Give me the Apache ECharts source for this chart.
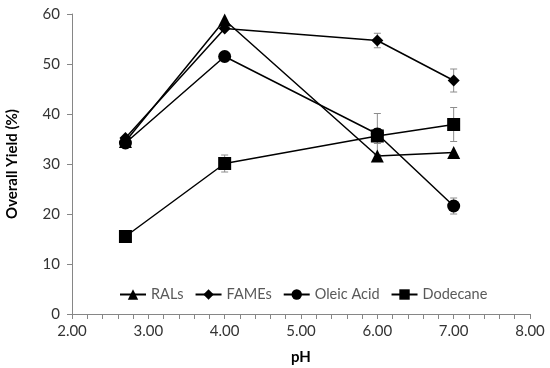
<!DOCTYPE html>
<html>
<head>
<meta charset="utf-8">
<script src="https://cdn.jsdelivr.net/npm/echarts@6/dist/echarts.min.js"></script>
<style>html,body{margin:0;padding:0;background:#fff;}#c{width:550px;height:368px;}</style>
</head>
<body>
<div id="c"></div>
<script>
var phValues = [2.7, 4.0, 6.0, 7.0];
var seriesNames = ['RALs', 'FAMEs', 'Oleic Acid', 'Dodecane'];
var ralsYield = [34.5, 58.8, 31.6, 32.3];
var famesYield = [35.2, 57.1, 54.7, 46.7];
var oleicYield = [34.2, 51.5, 36.0, 21.6];
var dodecaneYield = [15.5, 30.1, 35.6, 37.9];
var ralsErr = [0, 0, 0, 0];
var famesErr = [0, 0, 1.45, 2.3];
var oleicErr = [0, 0, 4.1, 1.6];
var dodecaneErr = [0, 1.7, 1.5, 3.4];
var xTicks = [2, 3, 4, 5, 6, 7, 8];
var yTicks = [0, 10, 20, 30, 40, 50, 60];

var values = [ralsYield, famesYield, oleicYield, dodecaneYield];
var errs = [ralsErr, famesErr, oleicErr, dodecaneErr];
var symbols = ['triangle', 'diamond', 'circle', 'rect'];
var sizes = [13, 12, 13, 13];
var FONT = 'Lato';
var chart = echarts.init(document.getElementById('c'));

function pairs(ys) { return phValues.map(function (x, i) { return [x, ys[i]]; }); }

var series = [];
errs.forEach(function (e, s) {
  var d = [];
  phValues.forEach(function (x, i) { if (e[i] > 0) d.push([x, values[s][i] - e[i], values[s][i] + e[i]]); });
  series.push({
    type: 'custom', silent: true, z: 1,
    renderItem: function (params, api) {
      var lo = api.coord([api.value(0), api.value(1)]);
      var hi = api.coord([api.value(0), api.value(2)]);
      var hw = 3.5;
      var st = { stroke: '#8c8c8c', lineWidth: 1 };
      return { type: 'group', children: [
        { type: 'line', shape: { x1: lo[0], y1: lo[1], x2: hi[0], y2: hi[1] }, style: st },
        { type: 'line', shape: { x1: lo[0] - hw, y1: lo[1], x2: lo[0] + hw, y2: lo[1] }, style: st },
        { type: 'line', shape: { x1: hi[0] - hw, y1: hi[1], x2: hi[0] + hw, y2: hi[1] }, style: st }
      ]};
    },
    encode: { x: 0, y: [1, 2] },
    data: d
  });
});
seriesNames.forEach(function (n, s) {
  series.push({
    name: n, type: 'line', z: 3,
    data: pairs(values[s]),
    symbol: symbols[s], symbolSize: sizes[s],
    lineStyle: { color: '#000', width: 1.5 },
    itemStyle: { color: '#000' },
    emphasis: { disabled: true }
  });
});

chart.setOption({
  animation: false,
  backgroundColor: '#fff',
  grid: { left: 72, right: 20, top: 14, bottom: 54, containLabel: false, outerBoundsMode: 'none' },
  legend: {
    data: seriesNames, left: 114, top: 282,
    itemWidth: 26, itemHeight: 13, itemGap: 11,
    textStyle: { fontFamily: FONT, fontSize: 14.5, color: '#595959' }
  },
  xAxis: {
    type: 'value', min: 2, max: 8, interval: 1,
    name: 'pH', nameLocation: 'middle', nameGap: 36,
    nameTextStyle: { fontFamily: FONT, fontSize: 15, fontWeight: 'bold', color: '#000' },
    axisLine: { lineStyle: { color: '#868686', width: 1 } },
    axisTick: { show: true, inside: false, length: 5, lineStyle: { color: '#868686' } },
    minorTick: { show: true, splitNumber: 5, length: 5, lineStyle: { color: '#868686', width: 1 } },
    splitLine: { show: false },
    axisLabel: { fontFamily: FONT, fontSize: 15, color: '#333', margin: 10,
      formatter: function (v) { return v.toFixed(2); } }
  },
  yAxis: {
    type: 'value', min: 0, max: 60, interval: 10,
    name: 'Overall Yield (%)', nameLocation: 'middle', nameGap: 52, nameRotate: 90,
    nameTextStyle: { fontFamily: FONT, fontSize: 15, fontWeight: 'bold', color: '#000' },
    axisLine: { show: true, lineStyle: { color: '#868686', width: 1 } },
    axisTick: { show: true, inside: false, length: 5, lineStyle: { color: '#868686' } },
    splitLine: { show: false },
    axisLabel: { fontFamily: FONT, fontSize: 15, color: '#333', margin: 12 }
  },
  series: series
});
</script>
</body>
</html>
